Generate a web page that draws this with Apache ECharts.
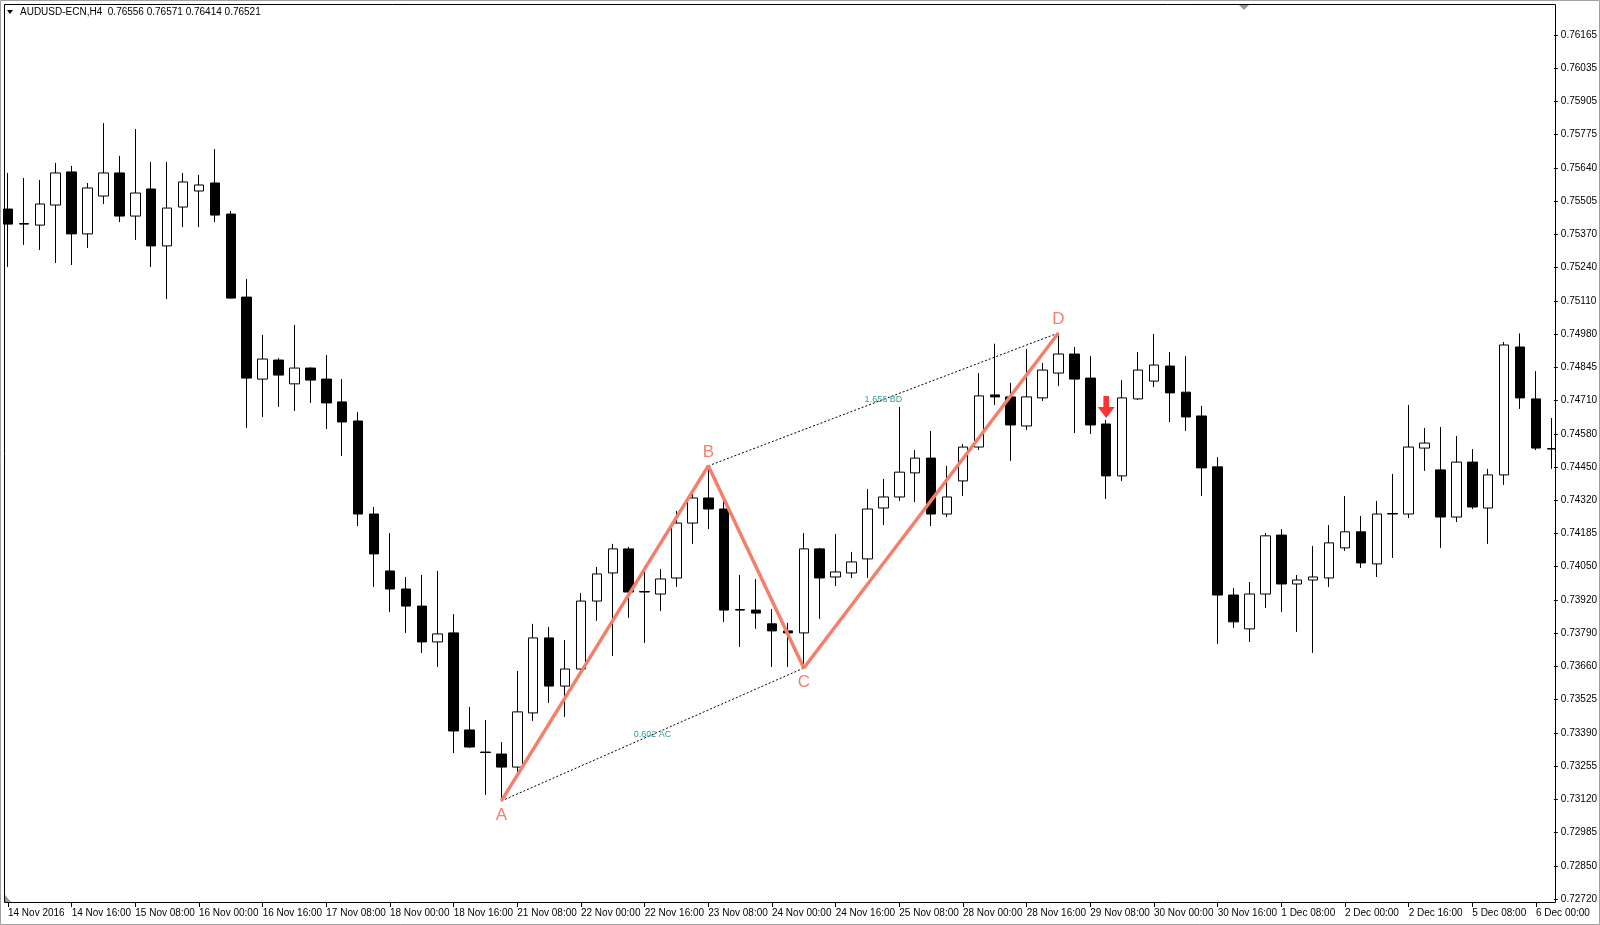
<!DOCTYPE html>
<html><head><meta charset="utf-8">
<script src="https://cdn.jsdelivr.net/npm/echarts@6/dist/echarts.min.js"></script>
<style>html,body{margin:0;padding:0;background:#fff}#c{width:1600px;height:925px}</style>
</head><body><div id="c"></div>
<script>
const timeLabels = ['14 Nov 2016','14 Nov 16:00','15 Nov 08:00','16 Nov 00:00','16 Nov 16:00','17 Nov 08:00','18 Nov 00:00','18 Nov 16:00','21 Nov 08:00','22 Nov 00:00','22 Nov 16:00','23 Nov 08:00','24 Nov 00:00','24 Nov 16:00','25 Nov 08:00','28 Nov 00:00','28 Nov 16:00','29 Nov 08:00','30 Nov 00:00','30 Nov 16:00','1 Dec 08:00','2 Dec 00:00','2 Dec 16:00','5 Dec 08:00','6 Dec 00:00'];
const yLabels = ['0.76165','0.76035','0.75905','0.75775','0.75640','0.75505','0.75370','0.75240','0.75110','0.74980','0.74845','0.74710','0.74580','0.74450','0.74320','0.74185','0.74050','0.73920','0.73790','0.73660','0.73525','0.73390','0.73255','0.73120','0.72985','0.72850','0.72720'];
const opens = [.75471,.75413,.75407,.75487,.75619,.75372,.75523,.75615,.75443,.75551,.75324,.75479,.75543,.75575,.75451,.75120,.74793,.74869,.74774,.74837,.74793,.74702,.74626,.74255,.74028,.73956,.73888,.73745,.73781,.73394,.73306,.73298,.73246,.73462,.73761,.73569,.73637,.73908,.74020,.74116,.73946,.73936,.74000,.74219,.74319,.74275,.73874,.73872,.73817,.73789,.73781,.74116,.74004,.74020,.74076,.74279,.74323,.74419,.74478,.74255,.74387,.74522,.74730,.74722,.74606,.74718,.74817,.74893,.74797,.74614,.74407,.74714,.74785,.74845,.74741,.74646,.74443,.73932,.73797,.73936,.74171,.73976,.73992,.74000,.74120,.74184,.74056,.74257,.74255,.74518,.74431,.74243,.74462,.74279,.74411,.74921,.74714,.74516];
const highs = [.75615,.75595,.75587,.75655,.75643,.75575,.75814,.75683,.75790,.75659,.75659,.75615,.75607,.75710,.75463,.75192,.74969,.74877,.75009,.74840,.74889,.74793,.74662,.74283,.74179,.74004,.74012,.74028,.73856,.73486,.73434,.73346,.73629,.73817,.73805,.73753,.73940,.74044,.74136,.74124,.74048,.74036,.74267,.74351,.74447,.74323,.74012,.73996,.73876,.73821,.74179,.74120,.74175,.74104,.74355,.74395,.74682,.74510,.74586,.74447,.74534,.74817,.74934,.74778,.74913,.74857,.74977,.74921,.74885,.74630,.74789,.74901,.74973,.74901,.74885,.74686,.74482,.73960,.73984,.74179,.74195,.74012,.74128,.74211,.74327,.74247,.74307,.74415,.74690,.74598,.74602,.74566,.74514,.74435,.74941,.74975,.74825,.74638];
const lows = [.75240,.75328,.75308,.75256,.75248,.75316,.75491,.75419,.75348,.75240,.75112,.75399,.75399,.75419,.75114,.74598,.74642,.74682,.74666,.74698,.74594,.74486,.74207,.73964,.73864,.73781,.73701,.73645,.73302,.73322,.73135,.73111,.73207,.73430,.73502,.73446,.73613,.73829,.73689,.73841,.73741,.73868,.73964,.74136,.74195,.73824,.73725,.73797,.73645,.73645,.73641,.73837,.73968,.74000,.74000,.74211,.74307,.74303,.74207,.74243,.74327,.74510,.74690,.74467,.74590,.74706,.74765,.74578,.74574,.74315,.74387,.74710,.74761,.74622,.74586,.74327,.73737,.73801,.73745,.73880,.73864,.73785,.73701,.73964,.74108,.74040,.74004,.74080,.74239,.74427,.74120,.74223,.74275,.74136,.74371,.74674,.74510,.74435];
const closes = [.75411,.75411,.75491,.75615,.75372,.75555,.75615,.75443,.75535,.75324,.75475,.75579,.75567,.75447,.75116,.74797,.74873,.74809,.74837,.74789,.74698,.74622,.74255,.74096,.73956,.73888,.73745,.73777,.73390,.73326,.73304,.73246,.73466,.73761,.73569,.73637,.73908,.74016,.74116,.73944,.73944,.73996,.74219,.74319,.74275,.73872,.73872,.73860,.73789,.73781,.74116,.74000,.74024,.74064,.74275,.74323,.74422,.74478,.74255,.74323,.74522,.74726,.74722,.74610,.74722,.74829,.74893,.74793,.74610,.74407,.74718,.74829,.74849,.74738,.74642,.74439,.73932,.73825,.73936,.74168,.73976,.73992,.74004,.74140,.74184,.74060,.74255,.74255,.74522,.74538,.74243,.74462,.74283,.74411,.74929,.74718,.74518,.74514];
const pattern = [{bar:31,name:'A',use:'low'},{bar:44,name:'B',use:'high'},{bar:50,name:'C',use:'low'},{bar:66,name:'D',use:'high'}];
const ratioTexts = ['0.602 AC','1.656 BD'];
const signalBar = 69;
const header = 'AUDUSD-ECN,H4  0.76556 0.76571 0.76414 0.76521';

const cats = opens.map((_, i) => i);
const candle = opens.map((o, i) => [o, closes[i], lows[i], highs[i]]);
const pv = p => p.use === 'low' ? lows[p.bar] : highs[p.bar];
const step = (0.76165 - 0.72720) / 26;
const font = 'Liberation Sans';
const salmon = '#F4806C';

const chart = echarts.init(document.getElementById('c'), null, {renderer:'canvas'});
chart.setOption({
  animation:false,
  backgroundColor:'#fff',
  grid:{left:-1, right:39, top:35, bottom:26},
  xAxis:{type:'category', data:cats, boundaryGap:true, offset:4, z:100,
    axisLine:{show:false},
    axisTick:{show:true, interval:3, alignWithLabel:true, length:4, lineStyle:{color:'#000'}},
    axisLabel:{interval:3, align:'left', margin:5, color:'#000', fontFamily:font, fontSize:10,
      formatter:(v, i) => timeLabels[Math.round(i/4)] || ''},
    splitLine:{show:false}},
  yAxis:{type:'value', position:'right', min:0.72720, max:0.76165, interval:step, offset:-6, z:100, scale:true,
    axisLine:{show:false},
    axisTick:{show:true, length:4, lineStyle:{color:'#000'}},
    axisLabel:{margin:7, color:'#000', fontFamily:font, fontSize:10,
      formatter:v => yLabels[26 - Math.round((v - 0.72720) / step)] || ''},
    splitLine:{show:false}},
  series:[
    {type:'candlestick', data:candle, barWidth:10, z:2,
      itemStyle:{color:'#fff', color0:'#000', borderColor:'#000', borderColor0:'#000', borderWidth:1}},
    {type:'line', data:[[pattern[0].bar, pv(pattern[0])], [pattern[2].bar, pv(pattern[2])]], z:3, symbol:'none', silent:true,
      lineStyle:{color:'#000', width:1, type:[2,2]}},
    {type:'line', data:[[pattern[1].bar, pv(pattern[1])], [pattern[3].bar, pv(pattern[3])]], z:3, symbol:'none', silent:true,
      lineStyle:{color:'#000', width:1, type:[2,2]}},
    {type:'line', z:4, symbol:'circle', symbolSize:1, showSymbol:true, showAllSymbol:true, silent:true,
      data:pattern.map(p => ({value:[p.bar, pv(p)], label:{show:true, position:p.use==='low'?'bottom':'top', distance:5, formatter:p.name}})),
      itemStyle:{color:salmon},
      lineStyle:{color:salmon, width:3.5},
      label:{color:salmon, fontFamily:font, fontSize:17}},
    {type:'scatter', data:[[signalBar, highs[signalBar]]], z:5, silent:true,
      symbol:'path://M6,0 L12,0 L12,11 L18,11 L9,22 L0,11 L6,11 Z', symbolSize:[17,22], symbolOffset:[0,-13],
      itemStyle:{color:'#FF0000'}}
  ]
});

function px(p){ return chart.convertToPixel({gridIndex:0}, [p.bar, pv(p)]); }
const P = pattern.map(px);
const mid = (a, b) => [(a[0]+b[0])/2, (a[1]+b[1])/2];
const m1 = mid(P[0], P[2]), m2 = mid(P[1], P[3]);
chart.setOption({graphic:[
  {type:'rect', z:50, shape:{x:1556, y:0, width:44, height:903}, style:{fill:'#fff'}},
  {type:'rect', z:60, shape:{x:4.5, y:4.5, width:1551, height:898}, style:{fill:'none', stroke:'#000', lineWidth:1}},
  {type:'rect', z:60, shape:{x:0.5, y:0.5, width:1599, height:924}, style:{fill:'none', stroke:'#a0a0a0', lineWidth:1}},
  {type:'polygon', z:60, shape:{points:[[7,10],[13,10],[10,14]]}, style:{fill:'#000'}},
  {type:'text', z:60, x:20, y:7, style:{text:header, fill:'#000', font:'10px "Liberation Sans"'}},
  {type:'polygon', z:60, shape:{points:[[1239,5],[1249,5],[1244,10]]}, style:{fill:'#8a9aa8'}},
  {type:'polygon', z:60, shape:{points:[[5,895],[5,902],[11,902]]}, style:{fill:'#8a9aa8'}},
  {type:'text', z:60, x:m1[0], y:m1[1], style:{text:ratioTexts[0], fill:'#3a9a9a', font:'9px "Liberation Sans"', align:'center', verticalAlign:'middle'}},
  {type:'text', z:60, x:m2[0], y:m2[1], style:{text:ratioTexts[1], fill:'#3a9a9a', font:'9px "Liberation Sans"', align:'center', verticalAlign:'middle'}}
]});
</script></body></html>
